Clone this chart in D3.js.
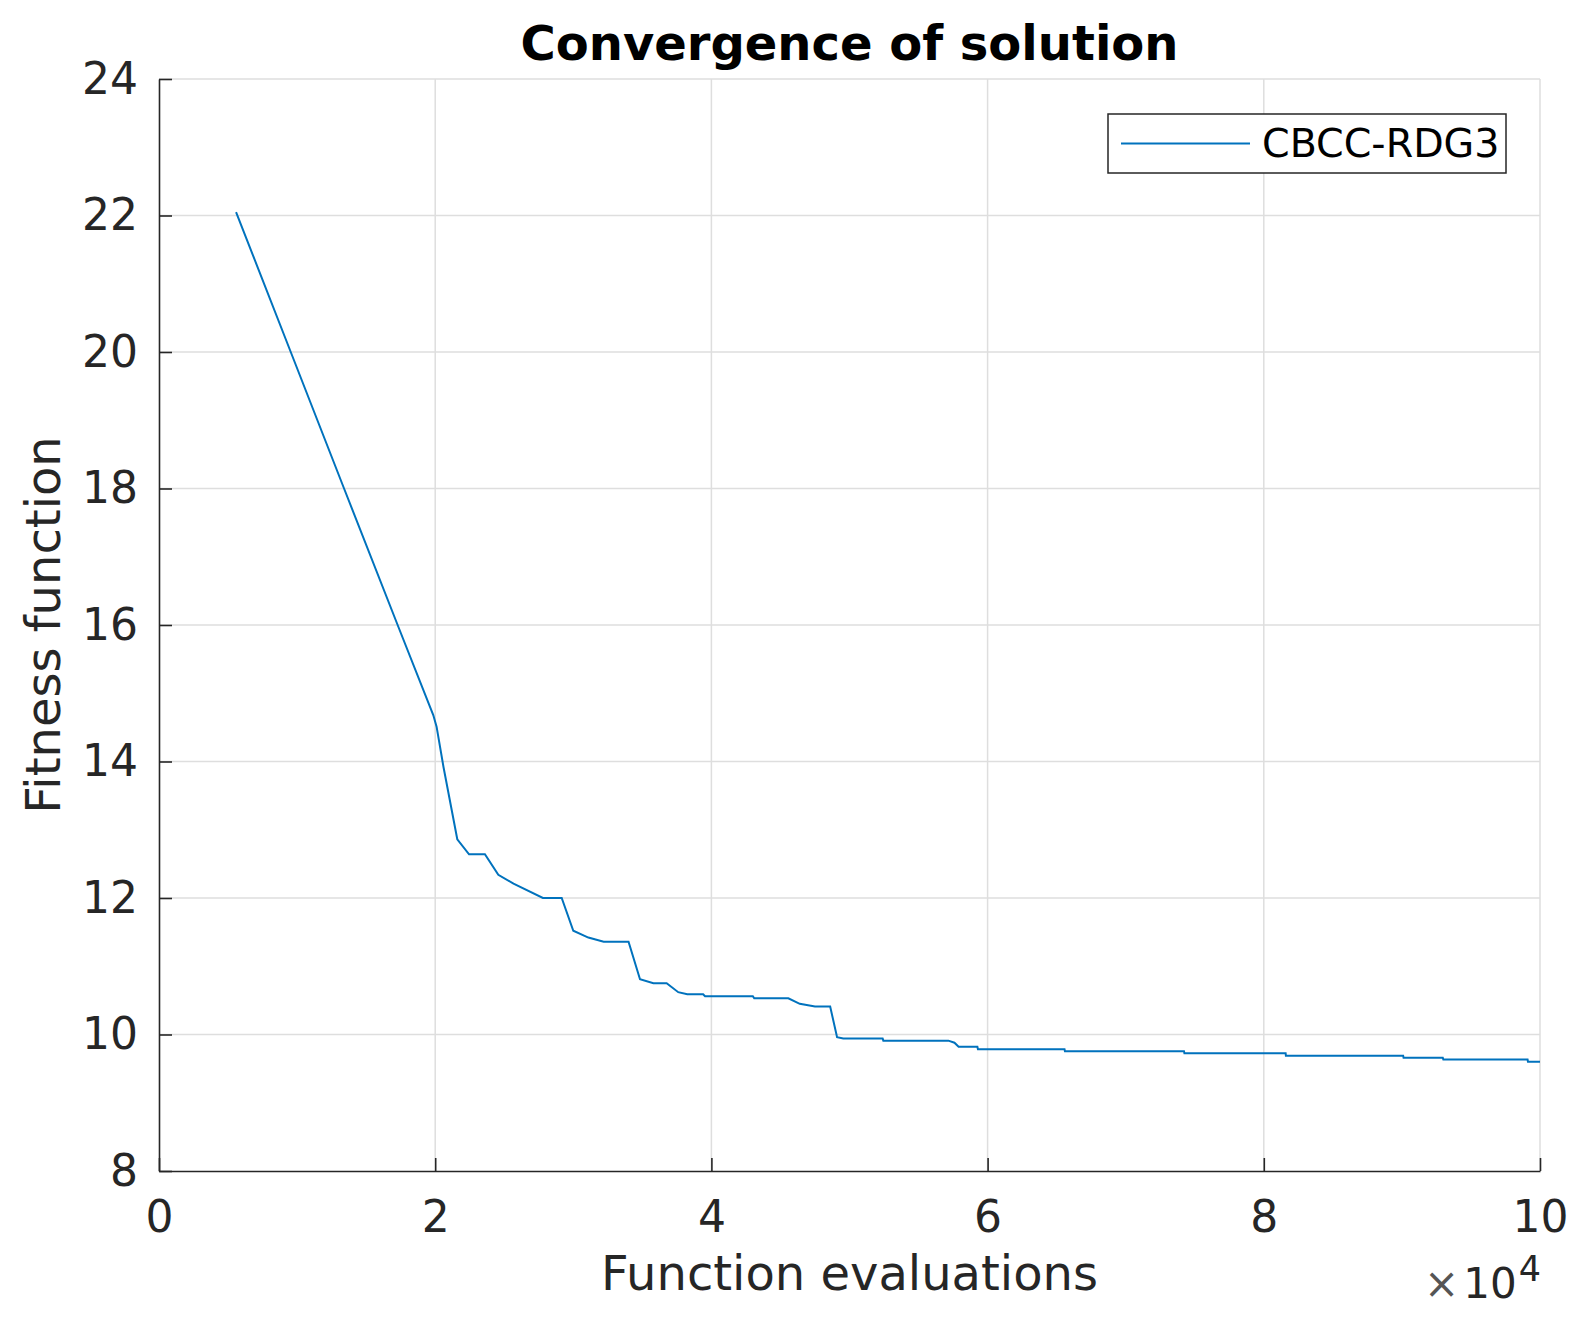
<!DOCTYPE html>
<html>
<head>
<meta charset="utf-8">
<script src="https://cdn.jsdelivr.net/npm/d3@7"></script>
<style>
  body { margin: 0; background: #fff; }
  svg { display: block; font-family: "DejaVu Sans", sans-serif; }
</style>
</head>
<body>
<div id="chart"></div>
<script>
// function evaluations (x 10^4) and fitness
const evalsE4 = [
  0.558, 0.954, 1.34, 1.728, 1.986, 2.01, 2.06, 2.16, 2.245, 2.36,
  2.457, 2.567, 2.78, 2.916, 3.0, 3.109, 3.22, 3.40, 3.483, 3.58,
  3.676, 3.76, 3.825, 3.94, 3.954, 4.30, 4.31, 4.557, 4.64, 4.75,
  4.86, 4.91, 4.955, 5.24, 5.245, 5.716, 5.76, 5.79, 5.926, 5.93,
  6.557, 6.56, 7.422, 7.425, 8.158, 8.16, 9.009, 9.012, 9.296, 9.30,
  9.91, 9.913, 10.0
];
const fitness = [
  22.05, 20, 18, 16, 14.68, 14.51, 13.92, 12.86, 12.64, 12.64,
  12.34, 12.21, 12.0, 12.0, 11.52, 11.42, 11.36, 11.36, 10.81, 10.75,
  10.75, 10.62, 10.59, 10.59, 10.56, 10.56, 10.53, 10.53, 10.45, 10.41,
  10.41, 9.96, 9.94, 9.94, 9.91, 9.91, 9.88, 9.82, 9.82, 9.785,
  9.785, 9.756, 9.756, 9.727, 9.727, 9.69, 9.69, 9.66, 9.66, 9.634,
  9.634, 9.60, 9.60
];
const xTicks = [0, 2, 4, 6, 8, 10];
const yTicks = [8, 10, 12, 14, 16, 18, 20, 22, 24];
const seriesName = "CBCC-RDG3";
const titleText = "Convergence of solution";
const xLabel = "Function evaluations";
const yLabel = "Fitness function";

const width = 1576, height = 1320;
const margin = { top: 79, right: 36, bottom: 149, left: 159 };
const axisColor = "#262626";
const gridColor = "#dedede";
const lineColor = "#0072bd";

const svg = d3.select("#chart").append("svg")
  .attr("width", width)
  .attr("height", height)
  .attr("viewBox", [0, 0, width, height]);

svg.append("rect").attr("width", width).attr("height", height).attr("fill", "#fff");

const xScale = d3.scaleLinear()
  .domain([0, 10])
  .range([margin.left, width - margin.right]);
const yScale = d3.scaleLinear()
  .domain([8, 24])
  .range([height - margin.bottom, margin.top]);

const data = evalsE4.map((x, i) => ({ x: x, y: fitness[i] }));

// grid
const grid = svg.append("g").attr("stroke", gridColor).attr("stroke-width", 1.5);
grid.selectAll("line.gx").data(xTicks.slice(1)).enter().append("line")
  .attr("x1", d => xScale(d)).attr("x2", d => xScale(d))
  .attr("y1", yScale(8)).attr("y2", yScale(24));
grid.selectAll("line.gy").data(yTicks.slice(1)).enter().append("line")
  .attr("x1", xScale(0)).attr("x2", xScale(10))
  .attr("y1", d => yScale(d)).attr("y2", d => yScale(d));

// axes
const xAxis = g => g
  .attr("transform", `translate(0,${yScale(8)})`)
  .call(d3.axisBottom(xScale).tickValues(xTicks).tickSizeInner(-13).tickSizeOuter(0).tickPadding(30)
    .tickFormat(d3.format("d")));
const yAxis = g => g
  .attr("transform", `translate(${xScale(0)},0)`)
  .call(d3.axisLeft(yScale).tickValues(yTicks).tickSizeInner(-13).tickSizeOuter(0).tickPadding(21)
    .tickFormat(d3.format("d")));

svg.append("g").call(xAxis);
svg.append("g").call(yAxis);

svg.selectAll(".domain").attr("stroke", axisColor).attr("stroke-width", 1.6);
svg.selectAll(".tick line").attr("stroke", axisColor).attr("stroke-width", 1.6);
svg.selectAll(".tick text")
  .attr("fill", axisColor)
  .attr("font-size", 44)
  .attr("font-family", "DejaVu Sans");

// series
svg.append("path")
  .datum(data)
  .attr("fill", "none")
  .attr("stroke", lineColor)
  .attr("stroke-width", 2)
  .attr("d", d3.line().x(d => xScale(d.x)).y(d => yScale(d.y)));

// exponent
const expo = svg.append("text")
  .attr("x", xScale(10) + 1)
  .attr("y", 1298)
  .attr("text-anchor", "end")
  .attr("fill", axisColor)
  .attr("font-size", 42);
expo.append("tspan").attr("fill", "#555").text("×");
expo.append("tspan").attr("dx", 4).text("10");
expo.append("tspan").attr("font-size", 35).attr("dy", -17).attr("dx", 2).text("4");

// labels
svg.append("text")
  .attr("x", (xScale(0) + xScale(10)) / 2)
  .attr("y", 1290)
  .attr("text-anchor", "middle")
  .attr("fill", axisColor)
  .attr("font-size", 48)
  .text(xLabel);

svg.append("text")
  .attr("transform", `translate(60,${(yScale(8) + yScale(24)) / 2}) rotate(-90)`)
  .attr("text-anchor", "middle")
  .attr("fill", axisColor)
  .attr("font-size", 48)
  .text(yLabel);

svg.append("text")
  .attr("x", (xScale(0) + xScale(10)) / 2)
  .attr("y", 60)
  .attr("text-anchor", "middle")
  .attr("fill", "#000")
  .attr("font-weight", "bold")
  .attr("font-size", 48)
  .text(titleText);

// legend
const legend = svg.append("g");
legend.append("rect")
  .attr("x", 1108).attr("y", 114)
  .attr("width", 398).attr("height", 59)
  .attr("fill", "#fff")
  .attr("stroke", axisColor)
  .attr("stroke-width", 1.5);
legend.append("line")
  .attr("x1", 1121).attr("x2", 1250)
  .attr("y1", 143.5).attr("y2", 143.5)
  .attr("stroke", lineColor)
  .attr("stroke-width", 2);
legend.append("text")
  .attr("x", 1262).attr("y", 157)
  .attr("fill", "#000")
  .attr("font-size", 39.6)
  .text(seriesName);
</script>
</body>
</html>
